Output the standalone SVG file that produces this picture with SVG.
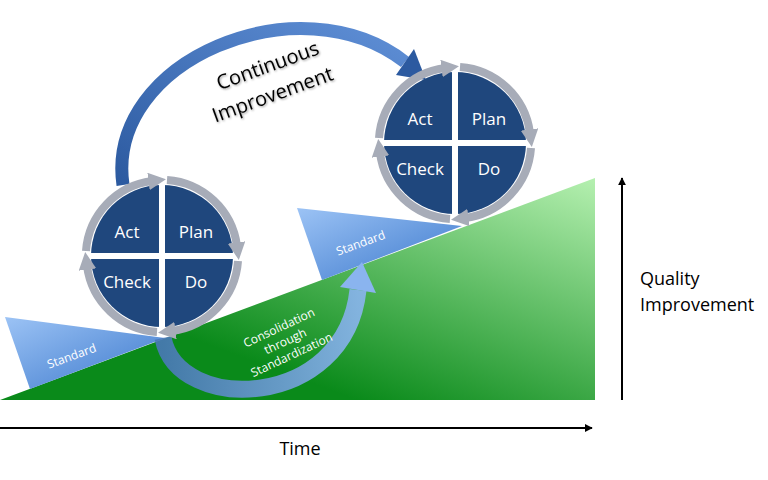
<svg xmlns="http://www.w3.org/2000/svg" width="768" height="480" viewBox="0 0 768 480">
<defs>
<linearGradient id="g" x1="0" y1="1" x2="1" y2="0"><stop offset="0.3" stop-color="#0a8a1a"/><stop offset="1" stop-color="#b5f0b0"/></linearGradient>
<linearGradient id="b" x1="0" y1="0" x2="1" y2="1"><stop offset="0" stop-color="#9cc3f5"/><stop offset="1" stop-color="#3b78cc"/></linearGradient>
<linearGradient id="a" x1="0" y1="1" x2="1" y2="0"><stop offset="0" stop-color="#2c5aa0"/><stop offset="1" stop-color="#5f8fd6"/></linearGradient>
<linearGradient id="c" x1="0" y1="0" x2="1" y2="0"><stop offset="0" stop-color="#4a78b8"/><stop offset="1" stop-color="#8ab4ef"/></linearGradient>
<marker id="rh" viewBox="0 0 10 10" refX="2" refY="5" markerWidth="2.2" markerHeight="2.2" orient="auto" markerUnits="strokeWidth"><path d="M0,0 L10,5 L0,10 z" fill="#a7acb8"/></marker>
<marker id="ax" viewBox="0 0 10 10" refX="9" refY="5" markerWidth="8" markerHeight="8" orient="auto" markerUnits="userSpaceOnUse"><path d="M0,0 L10,5 L0,10 z" fill="#000"/></marker>
<filter id="sh"><feDropShadow dx="1" dy="1" stdDeviation="1" flood-opacity="0.4"/></filter>
<g id="pdca">
<circle r="71" fill="#1f477d"/>
<path d="M-80,0 H80 M0,-80 V80" stroke="#fff" stroke-width="6"/>
<g fill="none" stroke="#a7acb8" stroke-width="8">
<path d="M-76,-5 A76,76 0 0 1 -10,-75" marker-end="url(#rh)"/>
<path d="M5,-76 A76,76 0 0 1 75,-10" marker-end="url(#rh)"/>
<path d="M76,5 A76,76 0 0 1 10,75" marker-end="url(#rh)"/>
<path d="M-5,76 A76,76 0 0 1 -75,10" marker-end="url(#rh)"/>
</g>
<g font-family="Open Sans, Liberation Sans, sans-serif" font-size="17" fill="#fff" text-anchor="middle">
<text x="-35" y="-18">Act</text><text x="34" y="-18">Plan</text>
<text x="-35" y="32">Check</text><text x="34" y="32">Do</text>
</g>
</g>
</defs>
<style>.lbl{font-family:"Open Sans","Liberation Sans",sans-serif}</style>
<rect width="768" height="480" fill="#fff"/>
<polygon id="slope" points="0,400 595,178 595,400" fill="url(#g)"/>
<g id="std1"><polygon points="5,317 165,338 30,389" fill="url(#b)"/>
<text class="lbl" font-size="12" fill="#fff" transform="translate(73,360) rotate(-20)" text-anchor="middle">Standard</text></g>
<g id="std2"><polygon points="297,208 462,226 322,280" fill="url(#b)"/>
<text class="lbl" font-size="12" fill="#fff" transform="translate(362,247) rotate(-20)" text-anchor="middle">Standard</text></g>
<g id="connectors">
<path d="M163,338 C178,415 345,410 358,290" fill="none" stroke="url(#c)" stroke-width="17" opacity="0.9"/>
<polygon points="376,293 340,287 362,262" fill="#8ab4ef"/>
<path d="M123,185 C105,60 300,-20 405,62" fill="none" stroke="url(#a)" stroke-width="13"/>
<polygon points="414,49 396,75 426,80" fill="#2c5aa0"/>
<line x1="0" y1="428" x2="592" y2="428" stroke="#000" stroke-width="2" marker-end="url(#ax)"/>
<line x1="622" y1="400" x2="622" y2="178" stroke="#000" stroke-width="2" marker-end="url(#ax)"/>
</g>
<g id="left"><use href="#pdca" transform="translate(162,256)"/></g>
<g id="right"><use href="#pdca" transform="translate(455,143)"/></g>
<g id="ci" class="lbl" font-size="20" fill="#000" text-anchor="middle" filter="url(#sh)">
<text transform="translate(270,72) rotate(-20)">Continuous</text>
<text transform="translate(275,101) rotate(-20)">Improvement</text>
</g>
<g id="cons" class="lbl" font-size="12" fill="#fff" text-anchor="middle" transform="translate(287,345) rotate(-25)">
<text y="-15">Consolidation</text><text y="0">through</text><text y="15">Standardization</text>
</g>
<text class="lbl" x="300" y="455" font-size="18" text-anchor="middle">Time</text>
<text class="lbl" x="640" y="285" font-size="18">Quality</text>
<text class="lbl" x="640" y="311" font-size="18">Improvement</text>
</svg>
